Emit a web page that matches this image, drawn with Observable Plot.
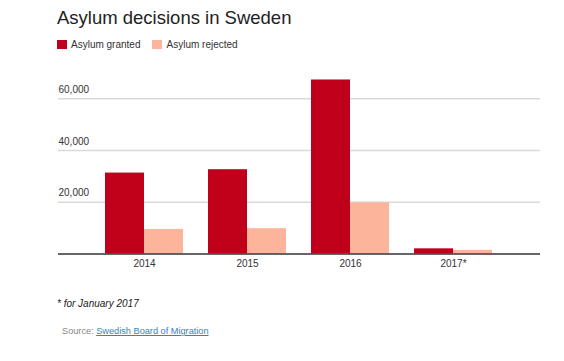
<!DOCTYPE html>
<html>
<head>
<meta charset="utf-8">
<script src="https://cdn.jsdelivr.net/npm/d3@7"></script>
<script src="https://cdn.jsdelivr.net/npm/@observablehq/plot@0.6"></script>
<style>
  body { margin: 0; background: #fff; font-family: "Liberation Sans", Arial, sans-serif; }
  #wrap { width: 564px; height: 361px; position: relative; overflow: hidden; }
  #header { height: 58px; position: relative; }
  #title { position: absolute; left: 57px; top: 7px; font-size: 18.5px; color: #222; white-space: nowrap; }
  #legend { position: absolute; left: 57px; top: 39px; font-size: 10px; color: #333; display: flex; align-items: center; }
  .sw { display: inline-block; width: 10px; height: 9px; margin-right: 4px; }
  .item { display: flex; align-items: center; margin-right: 12px; }
  #note { position: absolute; left: 57px; top: 298px; font-size: 10px; font-style: italic; color: #222; }
  #source { position: absolute; left: 62px; top: 326px; font-size: 9.2px; color: #888; }
  #source a { color: #2e86c1; text-decoration: underline; }
  svg text { font-family: "Liberation Sans", Arial, sans-serif; }
</style>
</head>
<body>
<div id="wrap">
  <div id="header">
    <div id="title">Asylum decisions in Sweden</div>
    <div id="legend"></div>
  </div>
  <div id="chart"></div>
  <div id="note">* for January 2017</div>
  <div id="source">Source: <a href="#">Swedish Board of Migration</a></div>
</div>
<script>
const years = ["2014", "2015", "2016", "2017*"];
const granted = [31300, 32600, 67300, 2000];
const rejected = [9500, 9800, 19800, 1400];
const seriesNames = ["Asylum granted", "Asylum rejected"];
const seriesColors = ["#c0001a", "#fcb49b"];
const yTicks = [20000, 40000, 60000];

const legend = document.getElementById("legend");
seriesNames.forEach((n, i) => {
  const it = document.createElement("span");
  it.className = "item";
  it.innerHTML = `<span class="sw" style="background:${seriesColors[i]}"></span>${n}`;
  legend.appendChild(it);
});

const rows = [];
years.forEach((y, i) => {
  rows.push({year: y, series: seriesNames[0], value: granted[i]});
  rows.push({year: y, series: seriesNames[1], value: rejected[i]});
});

const bandwidth = 78;
const fmt = d3.format(",");

const chart = Plot.plot({
  width: 564,
  height: 222,
  marginLeft: 58,
  marginRight: 24,
  marginTop: 14.5,
  marginBottom: 26.5,
  x: {domain: years, paddingInner: 0.2427, paddingOuter: 0.461, label: null, tickSize: 0, tickPadding: 6},
  y: {domain: [0, 70000], axis: null},
  color: {domain: seriesNames, range: seriesColors},
  style: {fontSize: "10px", color: "#333", fontFamily: "Liberation Sans, Arial, sans-serif"},
  marks: [
    Plot.ruleY(yTicks, {stroke: "#d9d9d9", strokeWidth: 1.5}),
    Plot.text(yTicks, {y: d => d, text: d => fmt(d), frameAnchor: "left", textAnchor: "start", dy: -9, fill: "#333", fontSize: 10}),
    Plot.barY(rows.filter(d => d.series === seriesNames[0]), {x: "year", y: "value", fill: "series", insetRight: bandwidth / 2}),
    Plot.barY(rows.filter(d => d.series === seriesNames[1]), {x: "year", y: "value", fill: "series", insetLeft: bandwidth / 2}),
    Plot.ruleY([0], {stroke: "#333", strokeWidth: 1.5})
  ]
});
document.getElementById("chart").appendChild(chart);
</script>
</body>
</html>
